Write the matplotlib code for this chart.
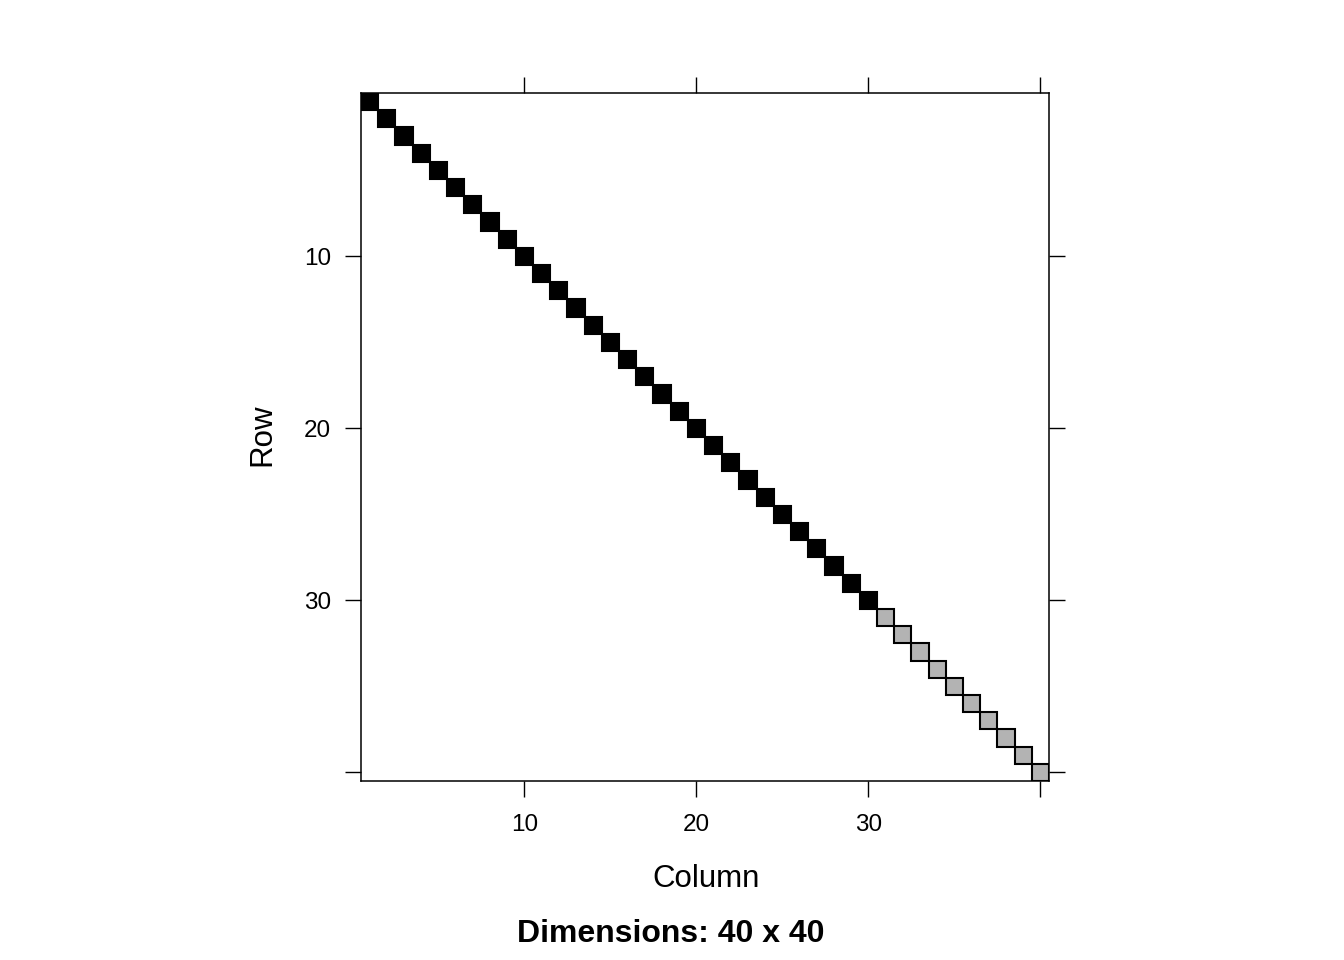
import matplotlib.pyplot as plt
from matplotlib.patches import Rectangle
import numpy as np

plt.rcParams['font.family'] = ['Liberation Sans', 'DejaVu Sans']

# sparse 40 x 40 matrix: non-zero entries on the diagonal
n = 40
rows = np.arange(1, 41)
cols = np.arange(1, 41)
values = np.array([1] * 30 + [0.5] * 10)
ticks = [10, 20, 30, 40]
tick_labels = ['10', '20', '30', '']

fig = plt.figure(figsize=(13.44, 9.6), dpi=100)
ax = fig.add_axes([361 / 1344, 1 - 781 / 960, 688 / 1344, 688 / 960])

for r, c, v in zip(rows, cols, values):
    color = 'black' if v == 1 else '#B3B3B3'
    ax.add_patch(Rectangle((c - 0.5, r - 0.5), 1, 1, facecolor=color,
                           edgecolor='black', linewidth=1.5))

ax.set_xlim(0.5, n + 0.5)
ax.set_ylim(n + 0.5, 0.5)

ax.set_xticks(ticks)
ax.set_xticklabels(tick_labels)
ax.set_yticks(ticks)
ax.set_yticklabels(tick_labels)
ax.tick_params(direction='out', length=11.5, width=1, labelsize=17.5,
               top=True, right=True)
ax.tick_params(axis='x', pad=12)
ax.tick_params(axis='y', pad=10)
for s in ax.spines.values():
    s.set_linewidth(1.1)

fig.text(706 / 1344, 1 - 879 / 960, 'Column', fontsize=22.5,
         ha='center', va='center')
fig.text(262 / 1344, 1 - 435 / 960, 'Row', fontsize=22.5,
         ha='center', va='center', rotation=90)
fig.text(671 / 1344, 1 - 934 / 960, 'Dimensions: 40 x 40', fontsize=23,
         fontweight='bold', ha='center', va='center')

fig.savefig('out.png', dpi=100)
